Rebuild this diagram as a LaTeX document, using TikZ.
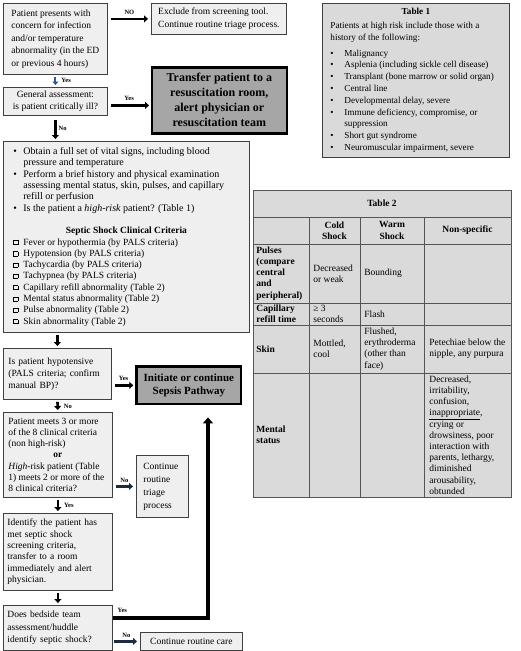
\documentclass[tikz,border=0pt]{standalone}
\usepackage{fontspec}
\setmainfont{Liberation Serif}
\usetikzlibrary{arrows.meta, positioning, calc}

\definecolor{boxfill}{HTML}{EFEFEF}
\definecolor{boxline}{HTML}{404040}
\definecolor{alertfill}{HTML}{A6A6A6}
\definecolor{tablefill}{HTML}{DADADA}
\definecolor{gridline}{HTML}{555555}
\definecolor{yesblue}{HTML}{2E5C9A}
\definecolor{nonavy}{HTML}{1C2B3F}

\newcommand{\bul}{\makebox[15pt][l]{\hspace*{5pt}\textbullet}}
\newcommand{\ind}{\hspace*{15pt}}
\newcommand{\cbox}{\fontsize{9.5}{11.3}\selectfont\makebox[15pt][l]{\hspace*{5pt}\raisebox{0.8pt}{\setlength{\fboxsep}{0pt}\setlength{\fboxrule}{0.5pt}\fbox{\rule{0pt}{3.6pt}\hspace{3.6pt}}}}}
\newcommand{\tbul}{\makebox[15pt][l]{\hspace*{1pt}\textbullet}}

\begin{document}
\begin{tikzpicture}[x=1pt, y=-1pt, >=Latex, thick,
    flow/.style={line width=2.6pt, -{Triangle[length=4pt,width=7pt]}},
    grid/.style={draw=gridline, line width=0.8pt}]
    % Define styles for boxes, labels and table cells
    \tikzstyle{block} = [draw=boxline, line width=0.8pt, fill=boxfill, rectangle, anchor=north west, inner xsep=5pt, inner ysep=0pt, align=left, font=\fontsize{9.5}{12.5}\selectfont]
    \tikzstyle{alert} = [draw=black, line width=2.6pt, fill=alertfill, rectangle, anchor=north west, inner sep=0pt, align=center, font=\bfseries\fontsize{12}{15}\selectfont]
    \tikzstyle{tag} = [inner sep=1pt, text=black, font=\bfseries\fontsize{6.5}{7}\selectfont]
    \tikzstyle{cell} = [anchor=west, align=left, inner sep=0pt, font=\fontsize{9.5}{11.2}\selectfont]
    \tikzstyle{rowhead} = [cell, font=\bfseries\fontsize{9.5}{11.2}\selectfont]
    \tikzstyle{colhead} = [cell, anchor=center, align=center, font=\bfseries\fontsize{9.5}{11.2}\selectfont]

    \useasboundingbox (0,0) rectangle (520,651);

    % Nodes placement
    \node[block, minimum width=104pt, minimum height=71pt] (presents) at (3,3) {Patient presents with\\concern for infection\\and/or temperature\\abnormality (in the ED\\or previous 4 hours)};
    \node[block, minimum width=135pt, minimum height=31pt] (exclude) at (151,3) {Exclude from screening tool.\\Continue routine triage process.};
    \node[block, align=center, minimum width=104pt, minimum height=28pt] (assess) at (3,87) {General assessment:\\is patient critically ill?};
    \node[alert, minimum width=135pt, minimum height=66pt] (transfer) at (150.5,66) {Transfer patient to a\\resuscitation room,\\alert physician or\\resuscitation team};
    \node[block, minimum width=187pt, minimum height=154pt, fill=tablefill, font=\fontsize{9.2}{11.8}\selectfont] (table1) at (322,3) {\makebox[173pt]{\textbf{Table 1}}\\[2pt]
        \hspace*{1pt}Patients at high risk include those with a\\
        \hspace*{1pt}history of the following:\\[4pt]
        \tbul Malignancy\\
        \tbul Asplenia (including sickle cell disease)\\
        \tbul Transplant (bone marrow or solid organ)\\
        \tbul Central line\\
        \tbul Developmental delay, severe\\
        \tbul Immune deficiency, compromise, or\\
        \hspace*{15pt}suppression\\
        \tbul Short gut syndrome\\
        \tbul Neuromuscular impairment, severe};
    \node[block, minimum width=246pt, minimum height=191pt, font=\fontsize{10}{11.3}\selectfont] (evaluate) at (3,141) {\bul Obtain a full set of vital signs, including blood\\
        \ind pressure and temperature\\
        \bul Perform a brief history and physical examination\\
        \ind assessing mental status, skin, pulses, and capillary\\
        \ind refill or perfusion\\
        \bul Is the patient a \textit{high-risk} patient? (Table 1)\\[11.3pt]
        \makebox[236pt]{\fontsize{9.5}{11.3}\selectfont\textbf{Septic Shock Clinical Criteria}}\\
        \cbox Fever or hypothermia (by PALS criteria)\\
        \cbox Hypotension (by PALS criteria)\\
        \cbox Tachycardia (by PALS criteria)\\
        \cbox Tachypnea (by PALS criteria)\\
        \cbox Capillary refill abnormality (Table 2)\\
        \cbox Mental status abnormality (Table 2)\\
        \cbox Pulse abnormality (Table 2)\\
        \cbox Skin abnormality (Table 2)};
    \node[block, text width=98pt, minimum height=51pt, font=\fontsize{9.5}{12}\selectfont] (hypo) at (3,348) {Is patient hypotensive\\(PALS criteria; confirm\\manual BP)?};
    \node[alert, minimum width=104.5pt, minimum height=37.5pt, font=\bfseries\fontsize{11}{13}\selectfont] (pathway) at (135.3,365.3) {Initiate or continue\\Sepsis Pathway};
    \node[block, minimum width=109pt, minimum height=85pt, font=\fontsize{9.5}{11.2}\selectfont] (criteria) at (3,412) {Patient meets 3 or more\\of the 8 clinical criteria\\(non high-risk)\\\makebox[99pt]{\textbf{or}}\\\textit{High}-risk patient (Table\\1) meets 2 or more of the\\8 clinical criteria?};
    \node[block, text width=38pt, inner xsep=7pt, minimum height=62pt, font=\fontsize{9.5}{13}\selectfont] (triage) at (136,455) {Continue\\routine\\triage\\process};
    \node[block, text width=101pt, inner xsep=4pt, minimum height=77pt, font=\fontsize{9.5}{11.3}\selectfont] (identify) at (3,513) {Identify the patient has\\met septic shock\\screening criteria,\\transfer to a room\\immediately and alert\\physician.};
    \node[block, text width=101pt, inner xsep=4pt, minimum height=45pt] (bedside) at (3,605) {Does bedside team\\assessment/huddle\\identify septic shock?};
    \node[block, align=center, minimum width=102pt, minimum height=18pt] (care) at (140,632) {Continue routine care};

    % Draw edges
    \draw[flow, shorten <=3pt, shorten >=3pt] (presents.east |- exclude.west) -- node[tag, above=2pt] {NO} (exclude.west);
    \draw[flow, yesblue, line width=2pt, -{Triangle[length=3.5pt,width=6pt]}, shorten <=2pt, shorten >=2pt] (presents.south) -- node[tag, right=4pt] {Yes} (assess.north);
    \coordinate (assessout) at ([yshift=-4pt]assess.east);
    \draw[flow, shorten <=3pt, shorten >=1.5pt] (assessout) -- node[tag, above=3pt] {Yes} (assessout -| transfer.west);
    \draw[flow, shorten <=4pt, shorten >=2pt] (assess.south) -- node[tag, right=1pt] {No} (evaluate.north -| assess.south);
    \draw[flow, shorten <=2pt, shorten >=2pt] (hypo.north |- evaluate.south) -- (hypo.north);
    \draw[flow, shorten <=3pt, shorten >=2pt] (pathway.west -| hypo.east) -- node[tag, above=2pt] {Yes} (pathway.west);
    \draw[flow, shorten <=2pt, shorten >=2pt] (hypo.south) -- node[tag, right=4pt] {No} (criteria.north);
    \draw[flow, nonavy, shorten <=3pt, shorten >=3pt] (triage.west -| criteria.east) -- node[tag, above=2pt] {No} (triage.west);
    \draw[flow, shorten <=2pt, shorten >=2pt] (criteria.south) -- node[tag, right=4pt] {Yes} (identify.north);
    \draw[flow, shorten <=2pt, shorten >=2pt] (identify.south) -- (bedside.north);
    \coordinate (yesbend) at (208,618);
    \draw[line width=3.6pt, line join=miter, -{Triangle[length=6pt,width=10pt]}, shorten >=12pt] (bedside.east |- yesbend) -- node[tag, above=3pt, pos=0.1] {Yes} (yesbend) -- (yesbend |- pathway.south);
    \draw[flow, nonavy, shorten <=1pt, shorten >=3pt] (care.west -| bedside.east) -- node[tag, above=2pt] {No} (care.west);

    % Table 2
    \draw[grid, fill=tablefill] (253,190) rectangle (511,497);
    \foreach \y in {217,244,303,325,373} \draw[grid] (253,\y) -- (511,\y);
    \foreach \x in {309,360,424} \draw[grid] (\x,217) -- (\x,497);

    \node[colhead] (t2title) at (382,203.5) {Table 2};
    \node[colhead] (coldhead) at (334.5,230.5) {Cold\\Shock};
    \node[colhead] (warmhead) at (392,230.5) {Warm\\Shock};
    \node[colhead] (nonhead) at (467.5,230.5) {Non-specific};
    \node[rowhead] (pulses) at (256,273.5) {Pulses\\(compare\\central\\and\\peripheral)};
    \node[cell] (pulsescold) at (313,273.5) {Decreased\\or weak};
    \node[cell] (pulseswarm) at (364,273.5) {Bounding};
    \node[rowhead] (refill) at (256,314) {Capillary\\refill time};
    \node[cell] (refillcold) at (313,314) {≥ 3\\seconds};
    \node[cell] (refillwarm) at (364,314) {Flash};
    \node[rowhead] (skin) at (256,349) {Skin};
    \node[cell] (skincold) at (313,349) {Mottled,\\cool};
    \node[cell] (skinwarm) at (364,349) {Flushed,\\erythroderma\\(other than\\face)};
    \node[cell] (skinnon) at (429,349) {Petechiae below the\\nipple, any purpura};
    \node[rowhead] (mental) at (256,435) {Mental\\status};
    \node[cell] (mentalnon) at (429,435) {Decreased,\\irritability,\\confusion,\\\underline{inappropriate},\\crying or\\drowsiness, poor\\interaction with\\parents, lethargy,\\diminished\\arousability,\\obtunded};
\end{tikzpicture}
\end{document}
